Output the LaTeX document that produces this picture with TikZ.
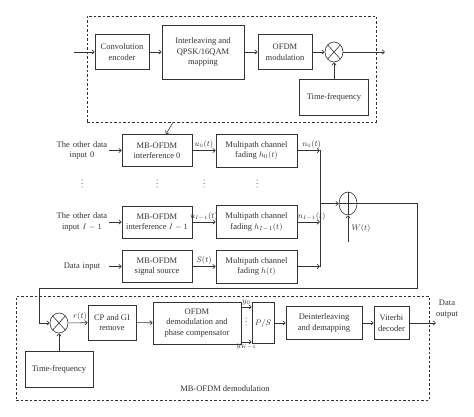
\documentclass[tikz,border=0pt]{standalone}
\usepackage{fontspec}
\setmainfont{Liberation Serif}
\usetikzlibrary{positioning, fit, arrows.meta, shapes.geometric}

\begin{document}
\begin{tikzpicture}[
      x=1pt, y=-1pt,
      font=\fontsize{8.5}{10.5}\selectfont,
      color=black!80, line width=0.6pt,
      blk/.style={draw, align=center, inner sep=1pt},
      dbox/.style={draw, dash pattern=on 2.5pt off 2pt},
      lbl/.style={inner sep=0.5pt, font=\fontsize{7.8}{9}\selectfont},
      src/.style={align=center, text width=52pt, inner sep=1pt},
      dots/.style={line width=1pt, line cap=round, dash pattern=on 0pt off 3.5pt},
      arr/.style={-{Straight Barb[length=2.5pt, width=4.5pt]}},
      mult/.style={draw, ellipse, minimum width=18pt, minimum height=20pt, inner sep=0pt,
                   path picture={\draw (path picture bounding box.north west) -- (path picture bounding box.south east)
                                      (path picture bounding box.north east) -- (path picture bounding box.south west);}},
      adder/.style={draw, ellipse, minimum width=18pt, minimum height=23pt, inner sep=0pt,
                    path picture={\draw (path picture bounding box.north) -- (path picture bounding box.south)
                                       (path picture bounding box.west) -- (path picture bounding box.east);}},
    ]
    \useasboundingbox (0,0) rectangle (474,417);
    % ── 发射端 ──
    \node[dbox, minimum width=289pt, minimum height=106pt] (tx) at (231.5,69) {};
    \coordinate (txin) at (74,52);
    \coordinate (txout) at (385,52);
    \node[blk, minimum width=54pt, minimum height=35pt] (conv) at (122,52) {Convolution\\encoder};
    \node[blk, minimum width=82pt, minimum height=54pt] (inter) at (203,52) {Interleaving and\\QPSK/16QAM\\mapping};
    \node[blk, minimum width=54pt, minimum height=35pt] (mod) at (285,52) {OFDM\\modulation};
    \node[mult] (m1) at (334,52) {};
    \node[blk, minimum width=69pt, minimum height=36pt] (tf1) at (334,97) {Time-frequency};
    \foreach \a/\b in {txin/conv, conv/inter, inter/mod, mod/m1, m1/txout} \draw[arr] (\a) -- (\b);
    \draw[arr] (tf1) -- (m1);
    % ── 信道 ──
    \foreach \y/\lab/\sname/\fname/\u/\n [count=\i] in {
        150.5/The other data\\input 0/MB-OFDM\\interference 0/Multipath channel\\fading $h_0(t)$/$u_0(t)$/$n_0(t)$,
        222/The other data\\input $I-1$/MB-OFDM\\interference $I-1$/Multipath channel\\fading $h_{I-1}(t)$/$u_{I-1}(t)$/$n_{I-1}(t)$,
        266.5/Data input/MB-OFDM\\signal source/Multipath channel\\fading $h(t)$/$S(t)$/} {
      \node[src] (l\i) at (82,\y) {\lab};
      \node[blk, minimum width=70pt, minimum height=32pt] (s\i) at (157,\y) {\sname};
      \node[blk, minimum width=81pt, minimum height=33pt] (f\i) at (256.5,\y) {\fname};
      \coordinate (b\i) at (320,\y);
      \draw[arr] (l\i) -- (s\i);
      \draw[arr] (s\i) -- node[lbl, above=1pt] {\u} (f\i);
      \draw[arr] (f\i) -- node[lbl, above=1pt, xshift=3pt] {\n} (b\i);
    }
    \foreach \x [count=\i] in {82, 157, 204, 257} {
      \coordinate (d\i) at (\x,180);
      \draw[dots] (d\i) -- ++(0,8);
    }
    \draw[arr] ([xshift=-58.5pt]tx.south) -- ([xshift=9pt]s1.north);
    \draw (b1) -- (b3);
    \node[adder] (add) at (348,203.5) {};
    \coordinate (bj) at (320,203.5);
    \coordinate (w) at (348,242);
    \draw[arr] (bj) -- (add);
    \draw[arr] (w) -- (add);
    \node[lbl] (wl) at (361,228) {$W(t)$};
    % ── 接收端 ──
    \node[dbox, minimum width=413pt, minimum height=104pt] (rx) at (222.5,348) {};
    \node (rxl) at (225,389) {MB-OFDM demodulation};
    \coordinate (c1) at (417,288);
    \coordinate (c2) at (39,288);
    \node[mult] (m2) at (59,323) {};
    \node[blk, minimum width=68pt, minimum height=36pt] (tf2) at (59,369) {Time-frequency};
    \node[blk, minimum width=48pt, minimum height=35pt] (cp) at (112,322.5) {CP and GI\\remove};
    \node[blk, minimum width=88pt, minimum height=42pt] (dem) at (197,323) {OFDM\\demodulation and\\phase compensator};
    \node[blk, minimum width=22pt, minimum height=41pt] (ps) at (263,323) {$P/S$};
    \node[blk, minimum width=76pt, minimum height=33pt] (dei) at (324,323) {Deinterleaving\\and demapping};
    \node[blk, minimum width=35pt, minimum height=33pt] (vit) at (391.5,323) {Viterbi\\decoder};
    \coordinate (rxout) at (436,323);
    \node[align=center] (outl) at (447,309) {Data\\output};
    \draw[arr] (add.east) -| (c1) -- (c2) |- (m2.west);
    \draw[arr] (tf2) -- (m2);
    \draw[arr] (m2) -- node[lbl, above=2pt, xshift=2pt] {$r(t)$} (cp);
    \draw[arr] (cp) -- (dem);
    \draw[arr] ([yshift=16pt]dem.east) -- node[lbl, above=1pt] {$y_0$} ([yshift=16pt]dem.east -| ps.west);
    \draw[arr] ([yshift=-19pt]dem.east) -- node[lbl, below=1pt] {$y_{K-1}$} ([yshift=-19pt]dem.east -| ps.west);
    \coordinate (dd) at (246,318);
    \draw[dots] (dd) -- ++(0,8);
    \foreach \a/\b in {ps/dei, dei/vit, vit/rxout} \draw[arr] (\a) -- (\b);
  \end{tikzpicture}
\end{document}
